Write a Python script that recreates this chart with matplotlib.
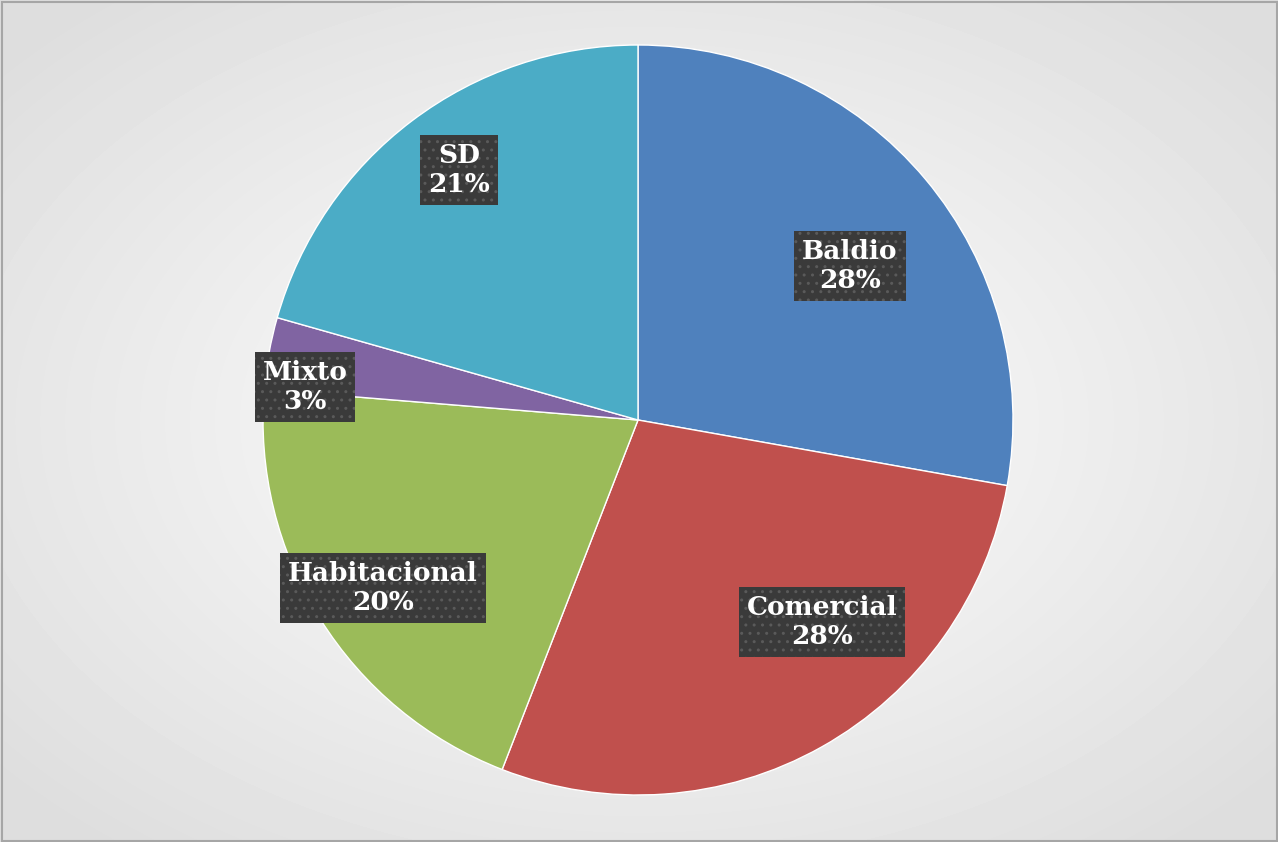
import numpy as np
import matplotlib
matplotlib.use("Agg")
import matplotlib.pyplot as plt

labels = ["Baldio", "Comercial", "Habitacional", "Mixto", "SD"]
values = [27.8, 28.1, 20.4, 3.1, 20.6]
pct_text = ["28%", "28%", "20%", "3%", "21%"]
colors = ["#4f81bd", "#c0504d", "#9bbb59", "#8064a2", "#4bacc6"]
# label centres in pixels of the reference image
label_px = [(850, 266), (822, 622), (383, 588), (305, 387), (459, 170)]

W, H = 1278, 842
fig = plt.figure(figsize=(W / 100, H / 100), dpi=100)

# radial gray background
bg = fig.add_axes([0, 0, 1, 1])
yy, xx = np.mgrid[0:H, 0:W]
r = np.sqrt(((xx - W / 2) / (W / 2)) ** 2 + ((yy - H / 2) / (H / 2)) ** 2)
bg.imshow(1.0 - 0.13 * np.clip(r / 1.3, 0, 1), cmap="gray", vmin=0, vmax=1, aspect="auto")
bg.set_axis_off()
bg.add_patch(plt.Rectangle((1, 1), W - 3, H - 3, fill=False, ec="#a6a6a6", lw=1.5))

cx, cy, R = 638, 420, 375
ax = fig.add_axes([(cx - R) / W, (H - cy - R) / H, 2 * R / W, 2 * R / H])
ax.pie(values, colors=colors, startangle=90, counterclock=False,
       wedgeprops=dict(linewidth=1, edgecolor="white"))
ax.set_xlim(-1, 1)
ax.set_ylim(-1, 1)
ax.set_axis_off()

for name, pct, (px, py) in zip(labels, pct_text, label_px):
    ax.text((px - cx) / R, (cy - py) / R, f"{name}\n{pct}", ha="center", va="center",
            color="white", fontsize=19, fontweight="bold", family="DejaVu Serif",
            linespacing=1.2,
            bbox=dict(boxstyle="square,pad=0.3", fc="#3a3a3a", ec="#5a5a5a",
                      hatch="..", lw=0))

fig.savefig("out.png", dpi=100)
